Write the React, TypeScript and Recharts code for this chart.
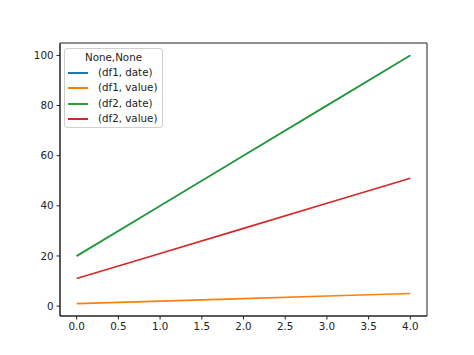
import React from "react";
import { LineChart, Line, XAxis, YAxis, ReferenceArea } from "recharts";

const xValues = [0, 1, 2, 3, 4];
const df1Date = [20, 40, 60, 80, 100];
const df1Value = [1, 2, 3, 4, 5];
const df2Date = [20, 40, 60, 80, 100];
const df2Value = [11, 21, 31, 41, 51];
const xTicks = [0, 0.5, 1, 1.5, 2, 2.5, 3, 3.5, 4];
const yTicks = [0, 20, 40, 60, 80, 100];
const legendTitle = "None,None";

const seriesNames = ["(df1, date)", "(df1, value)", "(df2, date)", "(df2, value)"];
const seriesKeys = ["df1Date", "df1Value", "df2Date", "df2Value"];
const colors = ["#1f77b4", "#ff7f0e", "#2ca02c", "#d62728"];

const X_DOMAIN = [-0.2, 4.2];
const Y_DOMAIN = [-3.95, 104.95];

const data = xValues.map((x, i) => ({
  x,
  df1Date: df1Date[i],
  df1Value: df1Value[i],
  df2Date: df2Date[i],
  df2Value: df2Value[i],
}));

const FONT = "'DejaVu Sans', sans-serif";
const tickStyle = { fontSize: 10.3, fill: "#222", fontFamily: FONT };

const LegendBox = () => (
  <div
    style={{
      position: "absolute",
      left: 64,
      top: 48,
      border: "1px solid #d0d0d0",
      borderRadius: 3,
      background: "rgba(255,255,255,0.8)",
      width: 99,
      height: 80,
      boxSizing: "border-box",
      fontFamily: FONT,
      fontSize: 10.3,
      color: "#222",
    }}
  >
    <div style={{ position: "absolute", top: 2, left: 0, width: "100%", textAlign: "center", lineHeight: "13px", whiteSpace: "nowrap" }}>
      {legendTitle}
    </div>
    {seriesNames.map((n, i) => (
      <div key={n} style={{ position: "absolute", top: Math.round(17 + i * 15.3), left: 3, height: 13, display: "flex", alignItems: "center" }}>
        <div style={{ width: 20, height: 2, background: colors[i], marginRight: 10, flexShrink: 0 }} />
        <span style={{ lineHeight: "13px", whiteSpace: "nowrap" }}>{n}</span>
      </div>
    ))}
  </div>
);

export default function App() {
  return (
    <div style={{ position: "absolute", left: 0, top: 0, width: 474, height: 355, background: "#fff" }}>
      <LineChart width={474} height={355} data={data} margin={{ top: 43, right: 47, bottom: 0, left: 0 }}>
        <XAxis
          dataKey="x"
          type="number"
          domain={X_DOMAIN}
          ticks={xTicks}
          tickFormatter={(v: number) => v.toFixed(1)}
          height={39}
          stroke="#222"
          tick={tickStyle}
          tickSize={3.5}
          tickMargin={3}
          allowDataOverflow
        />
        <YAxis
          type="number"
          domain={Y_DOMAIN}
          ticks={yTicks}
          width={60}
          stroke="#222"
          tick={tickStyle}
          tickSize={3.5}
          tickMargin={3}
          allowDataOverflow
        />
        <ReferenceArea
          x1={X_DOMAIN[0]}
          x2={X_DOMAIN[1]}
          y1={Y_DOMAIN[0]}
          y2={Y_DOMAIN[1]}
          fill="none"
          fillOpacity={0}
          stroke="#222"
          strokeWidth={1}
          ifOverflow="visible"
        />
        {seriesKeys.map((k, i) => (
          <Line key={k} dataKey={k} name={seriesNames[i]} stroke={colors[i]} strokeWidth={1.6} dot={false} isAnimationActive={false} />
        ))}
      </LineChart>
      <LegendBox />
    </div>
  );
}
